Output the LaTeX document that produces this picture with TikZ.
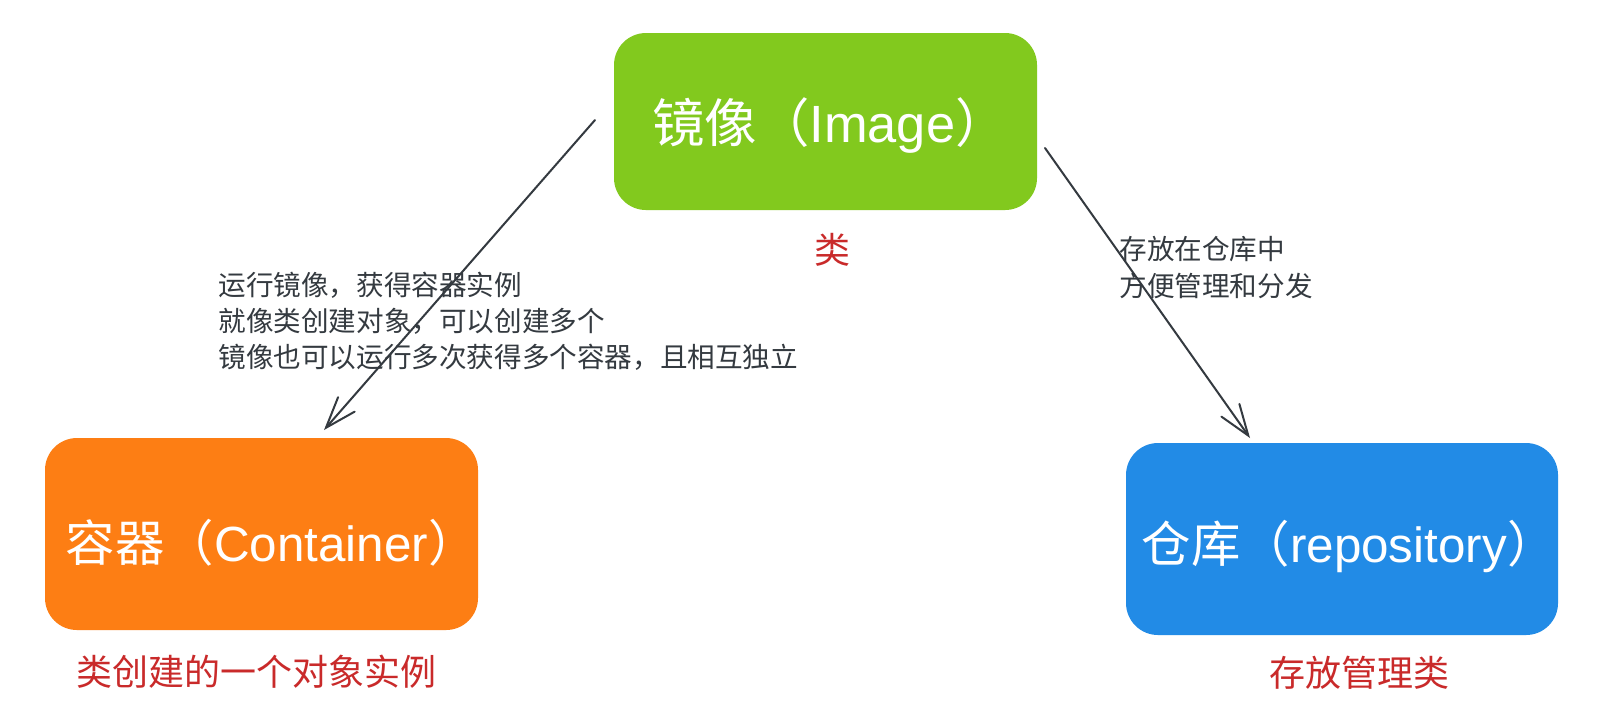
\documentclass[tikz,border=0pt]{standalone}
\usepackage{fontspec}
\setmainfont{Liberation Sans}
\newfontfamily\cjk{Noto Sans CJK SC}
\usepackage{xcolor}
\usetikzlibrary{arrows.meta}
\definecolor{imagegreen}{HTML}{82C91E}
\definecolor{containerorange}{HTML}{FD7E14}
\definecolor{repoblue}{HTML}{228BE6}
\definecolor{notered}{HTML}{C92A2A}
\definecolor{inkgray}{HTML}{343A40}
\tikzset{
  entity/.style={draw=none, rounded corners=16pt, text=white, inner sep=0pt,
  text depth=2.6pt},
  remark/.style={text=notered, inner sep=0pt,
  font=\cjk\fontsize{18pt}{22pt}\selectfont},
  explain/.style={text=inkgray, inner sep=0pt, align=left, anchor=west},
  flow/.style={draw=inkgray, line width=1pt, line cap=round,
  -{Straight Barb[length=15.5pt,width=11pt,line cap=round]}},
}

\begin{document}
\begin{tikzpicture}[
  x=0.5pt,
  y=-0.5pt,
]

  \useasboundingbox[fill=white] (0,0) rectangle (1620,720);

  \coordinate (imagec)     at ( 825.5, 121.5 );
  \coordinate (containerc) at ( 261.5, 534.0 );
  \coordinate (repoc)      at ( 1342.0, 539.0 );

  \coordinate (runstart)   at ( 595, 120 );
  \coordinate (runend)     at ( 324, 430 );
  \coordinate (storestart) at ( 1045, 148 );
  \coordinate (storeend)   at ( 1250, 438 );

  % Boxes
  \node[entity, fill=imagegreen, minimum width=211.5pt, minimum height=88.5pt,
    font=\fontsize{26.2pt}{31pt}\selectfont, text height=23.5pt] (image) at (imagec)
    {{\cjk 镜像（}Image{\cjk ）}\kern-0.17em};
  \node[entity, fill=containerorange, minimum width=216.5pt, minimum height=96pt,
    font=\fontsize{24.7pt}{29pt}\selectfont, text height=30pt] (container) at (containerc)
    {{\cjk 容器（}Container{\cjk ）}\kern-0.42em};
  \node[entity, fill=repoblue, minimum width=216pt, minimum height=96pt,
    font=\fontsize{24.7pt}{29pt}\selectfont, text height=26.5pt] (repo) at (repoc)
    {{\cjk 仓库（}repository{\cjk ）}\kern-0.29em};

  % Red remarks under the boxes
  \node[remark] (imagenote)     at ( 832, 250 ) {类};
  \node[remark] (containernote) at ( 256, 672 ) {类创建的一个对象实例};
  \node[remark] (reponote)      at ( 1359, 673 ) {存放管理类};

  % Arrows
  \draw[flow] (runstart) -- (runend);
  \draw[flow] (storestart) -- (storeend);

  % Arrow texts
  \node[explain, font=\cjk\fontsize{13.8pt}{18pt}\selectfont] (runtext) at ( 218, 321 )
    {运行镜像，获得容器实例\\就像类创建对象，可以创建多个\\镜像也可以运行多次获得多个容器，且相互独立};
  \node[explain, font=\cjk\fontsize{13.8pt}{18.5pt}\selectfont] (storetext) at ( 1119, 267.5 )
    {存放在仓库中\\方便管理和分发};

\end{tikzpicture}
\end{document}
